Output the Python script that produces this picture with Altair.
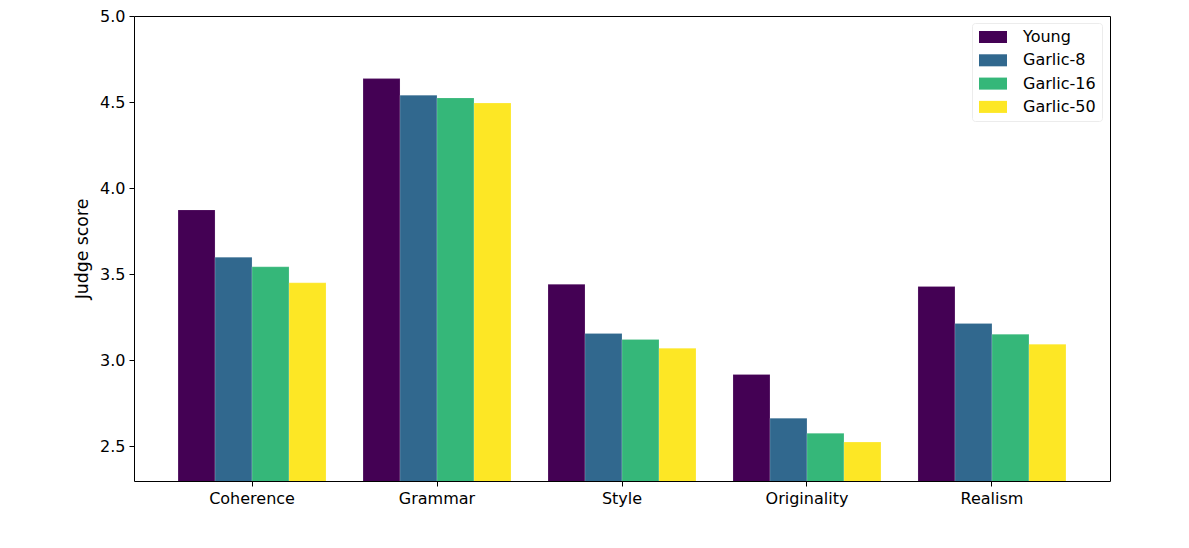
import altair as alt
import pandas as pd

categories = ["Coherence", "Grammar", "Style", "Originality", "Realism"]
series = ["Young", "Garlic-8", "Garlic-16", "Garlic-50"]
young = [3.873, 4.636, 3.440, 2.916, 3.428]
garlic8 = [3.598, 4.540, 3.155, 2.662, 3.213]
garlic16 = [3.542, 4.524, 3.120, 2.574, 3.150]
garlic50 = [3.449, 4.494, 3.068, 2.523, 3.092]
colors = ["#440154", "#31688e", "#35b779", "#fde725"]
y_ticks = [2.5, 3.0, 3.5, 4.0, 4.5, 5.0]

rows = []
for name, vals in zip(series, [young, garlic8, garlic16, garlic50]):
    for c, v in zip(categories, vals):
        rows.append({"category": c, "model": name, "score": v})
df = pd.DataFrame(rows)

FONT = "DejaVu Sans"
FS = 16

bars = alt.Chart(df).mark_bar(clip=True, stroke="white", strokeWidth=0.3, strokeOpacity=0.6).encode(
    x=alt.X("category:N", sort=categories, title=None,
            scale=alt.Scale(paddingInner=0, paddingOuter=0.138),
            axis=alt.Axis(labelAngle=0, labelFontSize=FS, labelFont=FONT, labelColor="black",
                          tickColor="black", tickSize=5, labelPadding=4, domain=False)),
    xOffset=alt.XOffset("model:N", sort=series,
                        scale=alt.Scale(paddingInner=0, paddingOuter=0.5)),
    y=alt.Y("score:Q", title="Judge score",
            scale=alt.Scale(domain=[2.297, 5.0], zero=False, nice=False),
            axis=alt.Axis(values=y_ticks, format=".1f", labelFontSize=FS, labelFont=FONT,
                          labelColor="black", tickColor="black", tickSize=5, labelPadding=4,
                          grid=False, domain=False, titleFont=FONT, titleFontSize=17.3,
                          titleFontWeight="normal", titleColor="black", titlePadding=8)),
    y2=alt.datum(0),
    color=alt.Color("model:N", sort=series, title=None,
                    scale=alt.Scale(domain=series, range=colors),
                    legend=alt.Legend(orient="none", legendX=838, legendY=7,
                                      symbolType="M-1,-0.86H3V0.86H-1Z", symbolSize=196,
                                      symbolStrokeWidth=0, labelFont=FONT, labelFontSize=FS,
                                      labelColor="black", rowPadding=7.3, labelOffset=29,
                                      padding=6, strokeColor="#ececec", cornerRadius=3,
                                      fillColor="white")),
)

chart = bars.properties(
    width=976, height=465,
    autosize=alt.AutoSizeParams(type="none"),
    padding={"left": 126, "top": 8, "right": 71, "bottom": 59},
).configure(background="white").configure_view(stroke="black", strokeWidth=1)

chart.save("out.html", embed_options={"renderer": "svg", "actions": False})
